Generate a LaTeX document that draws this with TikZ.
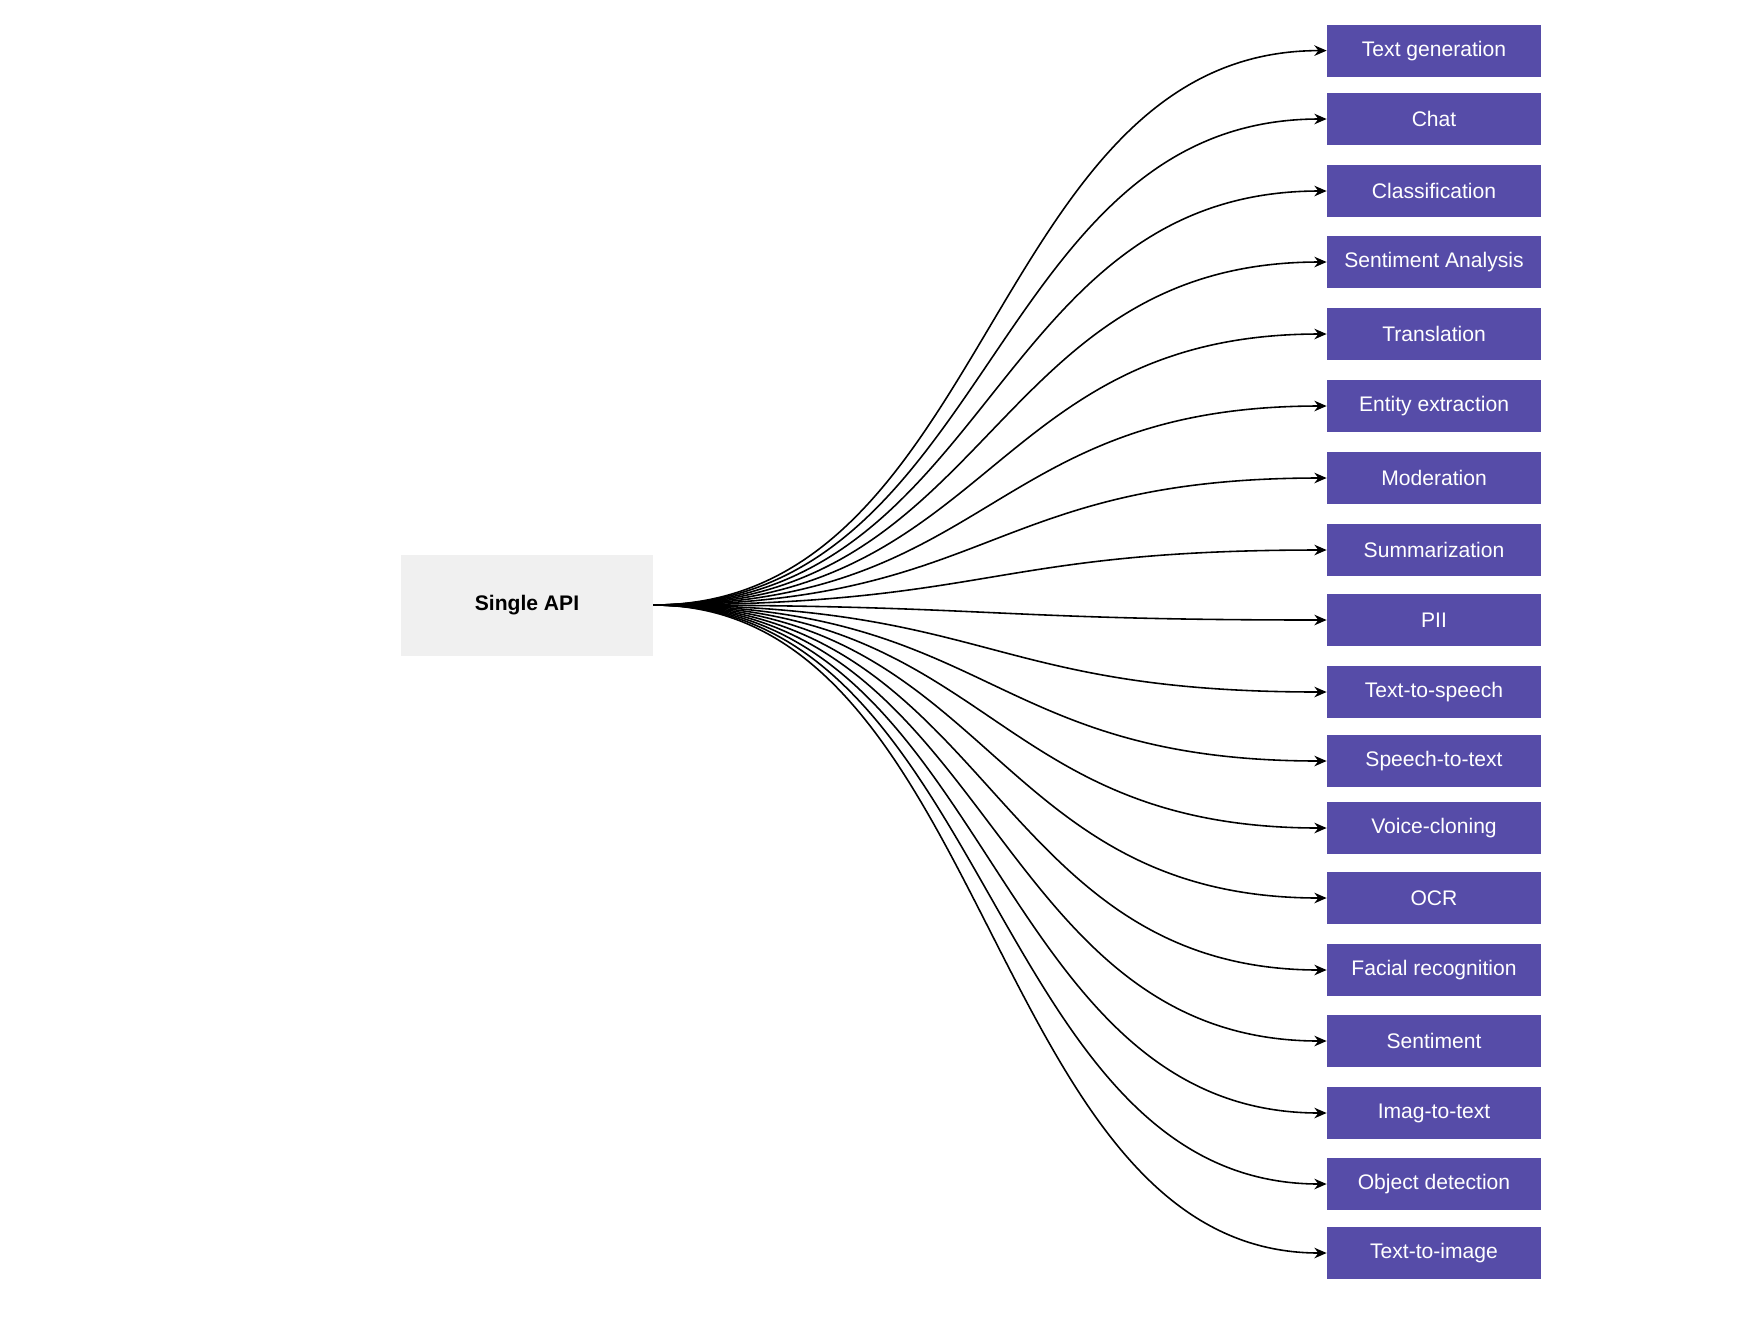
\documentclass[tikz,border=0pt]{standalone}
\usepackage{fontspec}
\setmainfont{Liberation Sans}
\usetikzlibrary{arrows.meta}
\definecolor{boxpurple}{HTML}{564CA8}
\definecolor{apigray}{HTML}{F0F0F0}
\begin{document}
\begin{tikzpicture}[x=0.02cm,y=-0.02cm,
  svc/.style={fill=boxpurple,draw=none,minimum width=214*0.02cm,minimum height=52*0.02cm,text=white,font=\fontsize{12}{14}\selectfont,inner sep=0pt},
  api/.style={fill=apigray,draw=none,minimum width=252*0.02cm,minimum height=101*0.02cm,font=\bfseries\fontsize{12}{14}\selectfont,inner sep=0pt},
  conn/.style={-{Stealth[length=7pt,width=6pt]},line width=0.9pt,black}]
\useasboundingbox (0,0) rectangle (1754,1320);
\node[api] (api) at (527,605) {Single API};
\foreach \n/\y/\t in {s1/50.6/Text generation,s2/119/Chat,s3/191/Classification,s4/262/Sentiment Analysis,s5/334/Translation,s6/406/Entity extraction,s7/478/Moderation,s8/550/Summarization,s9/620/PII,s10/692/Text-to-speech,s11/761/Speech-to-text,s12/828/Voice-cloning,s13/898/OCR,s14/970/Facial recognition,s15/1041/Sentiment,s16/1113/Imag-to-text,s17/1184/Object detection,s18/1253/Text-to-image}{
  \node[svc] (\n) at (1434,\y) {\t};
  \draw[conn] (api.east) .. controls +(340,0) and +(-340,0) .. (\n.west);
}
\end{tikzpicture}
\end{document}
